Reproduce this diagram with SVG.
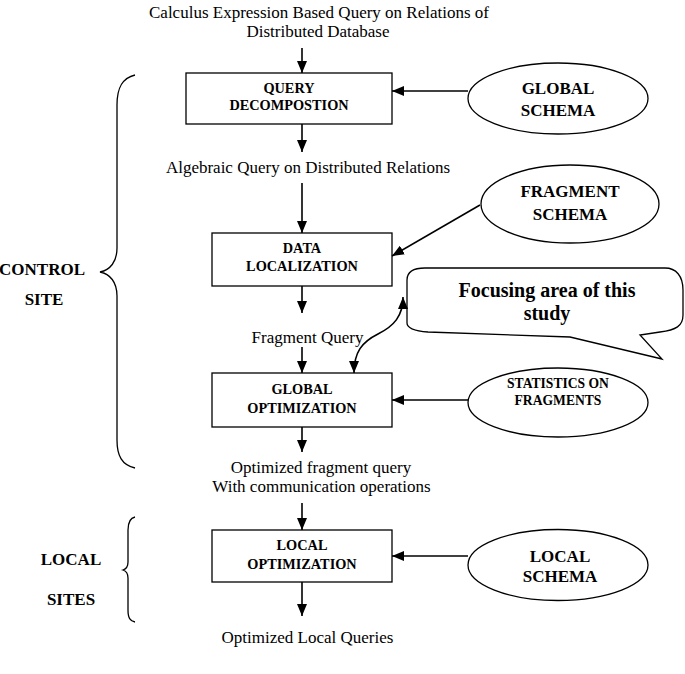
<svg xmlns="http://www.w3.org/2000/svg" width="685" height="674" viewBox="0 0 685 674">
<defs>
<marker id="ah" viewBox="0 0 12 10" refX="12" refY="5" markerWidth="12" markerHeight="10" orient="auto-start-reverse" markerUnits="userSpaceOnUse">
<path d="M0,0 L12,5 L0,10 z" fill="#000"/>
</marker>
<style>
.bx{fill:#fff;stroke:#000;stroke-width:1.3}
.el{fill:#fff;stroke:#000;stroke-width:1.3}
.cn{fill:none;stroke:#000;stroke-width:1.6;marker-end:url(#ah)}
.br{fill:none;stroke:#000;stroke-width:1.3}
.t{font-family:"Liberation Serif","Times New Roman",serif;font-size:17px;fill:#000;text-anchor:middle}
.b{font-family:"Liberation Serif","Times New Roman",serif;font-weight:bold;font-size:14.3px;fill:#000;text-anchor:middle}
.s{font-family:"Liberation Serif","Times New Roman",serif;font-weight:bold;font-size:17px;fill:#000;text-anchor:middle}
</style>
</defs>
<rect width="685" height="674" fill="#fff"/>

<g id="labels">
<text class="t" x="319" y="18">Calculus Expression Based Query on Relations of</text>
<text class="t" x="318" y="37">Distributed Database</text>
<text class="t" x="308" y="173">Algebraic Query on Distributed Relations</text>
<text class="t" x="307.5" y="343">Fragment Query</text>
<text class="t" x="321" y="473">Optimized fragment query</text>
<text class="t" x="321.5" y="492">With communication operations</text>
<text class="t" x="307.5" y="643">Optimized Local Queries</text>
</g>

<g id="control-site">
<path class="br" d="M135,75 C122,78 117,88 117,105 L117,248 C117,262 110,270 100,272 C110,274 117,282 117,296 L117,440 C117,456 122,465 135,468"/>
<text class="s" x="42" y="275">CONTROL</text>
<text class="s" x="44" y="305">SITE</text>
</g>

<g id="local-sites">
<path class="br" d="M135,517 C130,518 128,522 128,530 L128,562 C128,567 126,569 123,570 C126,571 128,573 128,578 L128,610 C128,618 130,621 135,622"/>
<text class="s" x="71" y="565">LOCAL</text>
<text class="s" x="71" y="605">SITES</text>
</g>

<g id="query-decomposition">
<rect class="bx" x="186" y="73" width="206" height="51"/>
<text class="b" x="289" y="93">QUERY</text>
<text class="b" x="289" y="110">DECOMPOSTION</text>
</g>

<g id="data-localization">
<rect class="bx" x="212" y="233" width="180" height="53"/>
<text class="b" x="302" y="253">DATA</text>
<text class="b" x="302" y="271">LOCALIZATION</text>
</g>

<g id="global-optimization">
<rect class="bx" x="212" y="373" width="180" height="54"/>
<text class="b" x="302" y="394">GLOBAL</text>
<text class="b" x="302" y="413">OPTIMIZATION</text>
</g>

<g id="local-optimization">
<rect class="bx" x="212" y="530" width="180" height="52"/>
<text class="b" x="302" y="550">LOCAL</text>
<text class="b" x="302" y="569">OPTIMIZATION</text>
</g>

<g id="global-schema">
<ellipse class="el" cx="558" cy="98.5" rx="90" ry="35.5"/>
<text class="s" x="558" y="94">GLOBAL</text>
<text class="s" x="558" y="116">SCHEMA</text>
</g>

<g id="fragment-schema">
<ellipse class="el" cx="570" cy="204" rx="89" ry="39"/>
<text class="s" x="570" y="197">FRAGMENT</text>
<text class="s" x="570" y="220">SCHEMA</text>
</g>

<g id="statistics">
<ellipse class="el" cx="558" cy="402.5" rx="90" ry="34.5"/>
<text class="b" x="558" y="388" style="font-size:13.6px">STATISTICS ON</text>
<text class="b" x="558" y="405" style="font-size:13.6px">FRAGMENTS</text>
</g>

<g id="local-schema">
<ellipse class="el" cx="558" cy="565" rx="90" ry="35.5"/>
<text class="s" x="560" y="562">LOCAL</text>
<text class="s" x="560" y="582">SCHEMA</text>
</g>

<g id="focus-callout">
<path fill="#fff" stroke="#000" stroke-width="1.3" d="M407,323 L407,280 C407,272 413,268 425,268 L665,268 C676,268 683,276 683,290 L683,315 C683,326 676,330 660,332 L640,335 L662,359 L570,337 L428,332 C415,331 407,328 407,323 z"/>
<text class="s" x="547" y="297" style="font-size:20px">Focusing area of this</text>
<text class="s" x="547" y="320" style="font-size:20px">study</text>
</g>

<g id="connectors">
<path class="cn" d="M302,48 V73"/>
<path class="cn" d="M302,124 V152"/>
<path class="cn" d="M468,91 H392"/>
<path class="cn" d="M302,183 V233"/>
<path class="cn" d="M302,286 V313"/>
<path class="cn" d="M480,205 L392,256"/>
<path class="cn" d="M302,347 V373"/>
<path class="cn" d="M354,373 C354,352 362,342 378,334 C394,326 403,316 403,297" style="marker-start:url(#ah)"/>
<path class="cn" d="M302,427 V452"/>
<path class="cn" d="M468,400 H392"/>
<path class="cn" d="M302,503 V530"/>
<path class="cn" d="M302,582 V616"/>
<path class="cn" d="M468,556 H392"/>
</g>
</svg>
